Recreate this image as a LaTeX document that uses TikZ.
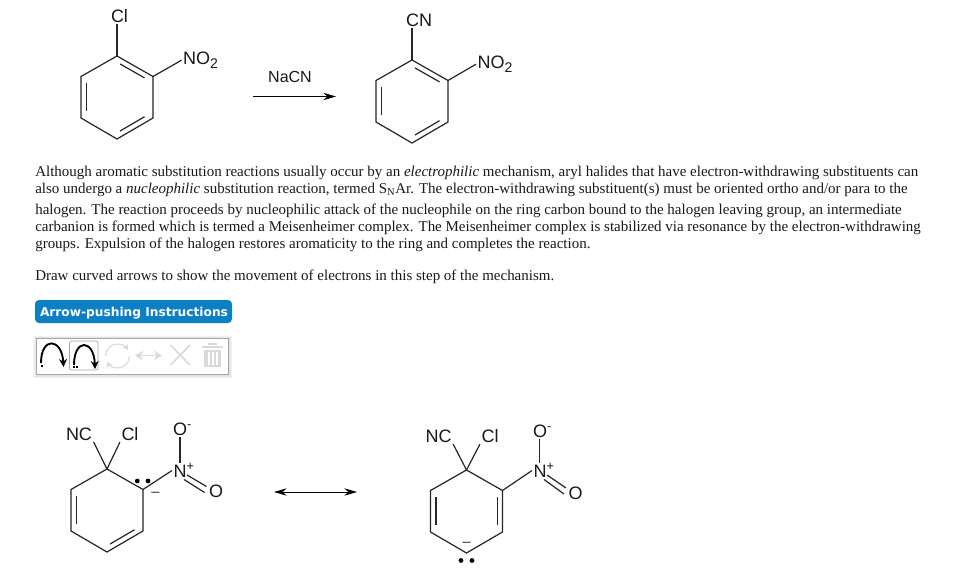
\documentclass[tikz,border=0pt]{standalone}
\usepackage{fontspec}
\setmainfont{Liberation Serif}
\newfontfamily\arialfont{Liberation Sans}
\newfontfamily\btnfont{DejaVu Sans}
\usetikzlibrary{calc,arrows.meta}
\tikzset{
	bond/.style={line width=0.9pt, color=black!85},
	atom/.style={font=\arialfont\fontsize{13.5}{13.5}\selectfont, inner sep=1pt, text=black!90},
	reagent/.style={font=\arialfont\fontsize{12}{12}\selectfont, inner sep=1pt, text=black!90},
	para/.style={anchor=base west, inner sep=0pt, font=\fontsize{11.24}{12}\selectfont, text=black!90},
	rxn/.style={line width=0.7pt, -{Stealth[length=9.5pt,width=5.5pt]}},
	tool/.style={line width=1.4pt, color=black, -{Stealth[length=6pt,width=6pt]}},
	offtool/.style={color=black!15, line width=1.2pt},
	charge/.style={font=\arialfont\fontsize{11}{11}\selectfont, inner sep=0pt, text=black!80}
}
\def\sub2{\raisebox{-3pt}{\fontsize{10.5}{10.5}\selectfont 2}}
\def\ringat(#1)(#2,#3){
	\coordinate (#1a) at (#2, #3);
	\coordinate (#1b) at ($(#2, #3)+(36, 20.5)$);
	\coordinate (#1c) at ($(#2, #3)+(36, 62)$);
	\coordinate (#1d) at ($(#2, #3)+(0, 83)$);
	\coordinate (#1e) at ($(#2, #3)+(-36, 62)$);
	\coordinate (#1f) at ($(#2, #3)+(-36, 20.5)$);
	\coordinate (#1o) at ($(#2, #3)+(0, 41.5)$);
	\draw[bond, line join=miter] (#1a) -- (#1b) -- (#1c) -- (#1d) -- (#1e) -- (#1f) -- cycle;
}
\def\innerbond(#1)(#2)(#3){\draw[bond] ($(#1)!.1!(#2)!.15!(#3)$) -- ($(#2)!.1!(#1)!.15!(#3)$);}
\begin{document}
\begin{tikzpicture}[x=0.75pt, y=-0.75pt]
	\useasboundingbox[fill=white] (0, 0) rectangle (961, 581);

	%%%%% REACTION %%%%%
	\ringat(p)(117, 56)
	\innerbond(pa)(pb)(po)
	\innerbond(pc)(pd)(po)
	\innerbond(pe)(pf)(po)
	\node[atom] (cl1) at (119.5, 16) {Cl};
	\node[atom, anchor=base west] (no1) at (181.5, 64.5) {NO\sub2};
	\draw[bond] (pa) -- (pa |- cl1.south);
	\draw[bond] (pb) -- (no1.west);

	\node[reagent] (nacn) at (290, 77) {NaCN};
	\coordinate (rxnstart) at (253, 96.5);
	\coordinate (rxnend) at (336, 96.5);
	\draw[rxn] (rxnstart) -- (rxnend);

	\ringat(q)(412, 60)
	\innerbond(qa)(qb)(qo)
	\innerbond(qc)(qd)(qo)
	\innerbond(qe)(qf)(qo)
	\node[atom] (cn1) at (419, 20.5) {CN};
	\node[atom, anchor=base west] (no2) at (476, 68.5) {NO\sub2};
	\draw[bond] (qa) -- (qa |- cn1.south);
	\draw[bond] (qb) -- (no2.west);

	%%%%% TEXT %%%%%
	\node[para] (line1) at (35, 176.5) {Although aromatic substitution reactions usually occur by an \textit{electrophilic} mechanism, aryl halides that have electron-withdrawing substituents can};
	\node[para] (line2) at (35, 193.5) {also undergo a \textit{nucleophilic} substitution reaction, termed S\textsubscript{N}Ar. The electron-withdrawing substituent(s) must be oriented ortho and/or para to the};
	\node[para] (line3) at (35, 215) {halogen. The reaction proceeds by nucleophilic attack of the nucleophile on the ring carbon bound to the halogen leaving group, an intermediate};
	\node[para] (line4) at (35, 231.7) {carbanion is formed which is termed a Meisenheimer complex. The Meisenheimer complex is stabilized via resonance by the electron-withdrawing};
	\node[para] (line5) at (35, 248.5) {groups. Expulsion of the halogen restores aromaticity to the ring and completes the reaction.};
	\node[para] (line6) at (35, 280.7) {Draw curved arrows to show the movement of electrons in this step of the mechanism.};

	%%%%% BUTTON %%%%%
	\fill[rounded corners=3pt, fill={rgb,255:red,13;green,128;blue,197}] (35, 300) rectangle (232, 323);
	\node[inner sep=0pt, text=white, font=\btnfont\bfseries\fontsize{9.15}{10}\selectfont] (btn) at (134, 313) {Arrow-pushing Instructions};

	%%%%% TOOLBAR %%%%%
	\fill[black!5] (33, 336) rectangle (232, 378);
	\fill[black!10] (34.5, 337) rectangle (230.5, 376.5);
	\draw[fill=white, draw=black!35, line width=0.75pt] (36, 338.5) rectangle (228.5, 374.5);
	\draw[rounded corners=1.5pt, draw=black!35, line width=0.5pt] (69.5, 341) rectangle (98, 370);

	\draw[tool] (41, 363) .. controls (41, 336) and (62, 338) .. (63.5, 367);
	\fill (40.5, 364.5) rectangle (42.5, 367);
	\draw[tool] (74, 365) .. controls (74, 338) and (94, 339) .. (95, 369);
	\fill (72.5, 366) rectangle (74.5, 368);
	\fill (76, 366) rectangle (78, 368);

	\draw[offtool, line width=0.8pt, -{Stealth[length=4pt,width=5pt]}] (105.5, 356) arc (180:330:12);
	\draw[offtool, line width=0.8pt, -{Stealth[length=4pt,width=5pt]}] (129.5, 356) arc (0:150:12);
	\draw[offtool, {Stealth[length=6pt,width=7pt]}-{Stealth[length=6pt,width=7pt]}] (135, 355.5) -- (162, 355.5);
	\draw[offtool] (170.5, 345) -- (190, 365);
	\draw[offtool] (190, 345) -- (170.5, 365);
	\fill[black!15] (202, 345.5) rectangle (223, 348);
	\fill[black!15] (208, 342.5) rectangle (217, 345);
	\fill[black!15] (204, 349.5) rectangle (221, 367);
	\fill[white] (208, 352) rectangle (210, 364.5);
	\fill[white] (212, 352) rectangle (214, 364.5);
	\fill[white] (216, 352) rectangle (218, 364.5);

	%%%%% RESONANCE LEFT %%%%%
	\ringat(r)(107, 469)
	\innerbond(re)(rf)(ro)
	\innerbond(rc)(rd)(ro)
	\node[atom] (nc1) at (79, 434) {NC};
	\node[atom] (cl2) at (130, 434) {Cl};
	\node[atom, anchor=west] (n1) at (172, 470.5) {N\textsuperscript{+}};
	\node[atom, anchor=west] (om1) at (171.5, 429) {O\textsuperscript{-}};
	\node[atom, anchor=west] (o1) at (207.5, 491.5) {O};
	\draw[bond] (ra) -- (nc1.south east);
	\draw[bond] (ra) -- (cl2.south west);
	\draw[bond] (rb) -- (n1.west);
	\draw[bond] ($(om1.west)+(8.5, 8)$) -- ($(n1.west)+(8, -8)$);
	\draw[bond] ($(n1.west)+(15, 4.5)$) -- ($(o1.west)+(-1, -5)$);
	\draw[bond] ($(n1.west)+(12, 9)$) -- ($(o1.west)+(-3, 1)$);
	\fill (137.3, 481) circle (2.4);
	\fill (148, 481) circle (2.4);
	\node[charge] (minus1) at (155.5, 494) {–};

	\coordinate (resstart) at (274, 492);
	\coordinate (resend) at (357, 492);
	\draw[rxn, {Stealth[length=9.5pt,width=5.5pt]}-{Stealth[length=9.5pt,width=5.5pt]}] (resstart) -- (resend);

	%%%%% RESONANCE RIGHT %%%%%
	\ringat(s)(466.5, 470)
	\innerbond(se)(sf)(so)
	\innerbond(sb)(sc)(so)
	\node[atom] (nc2) at (438.5, 436) {NC};
	\node[atom] (cl3) at (490, 436) {Cl};
	\node[atom, anchor=west] (n2) at (532, 470.5) {N\textsuperscript{+}};
	\node[atom, anchor=west] (om2) at (531.5, 431) {O\textsuperscript{-}};
	\node[atom, anchor=west] (o2) at (567, 493) {O};
	\draw[bond] (sa) -- (nc2.south east);
	\draw[bond] (sa) -- (cl3.south west);
	\draw[bond] (sb) -- (n2.west);
	\draw[bond] ($(om2.west)+(8, 8)$) -- ($(n2.west)+(7.5, -8)$);
	\draw[bond] ($(n2.west)+(15, 4.5)$) -- ($(o2.west)+(-1, -5)$);
	\draw[bond] ($(n2.west)+(12, 9)$) -- ($(o2.west)+(-3, 1)$);
	\fill (461, 560.5) circle (2.4);
	\fill (472, 560.5) circle (2.4);
	\node[charge] (minus2) at (466.7, 544) {–};
\end{tikzpicture}
\end{document}
